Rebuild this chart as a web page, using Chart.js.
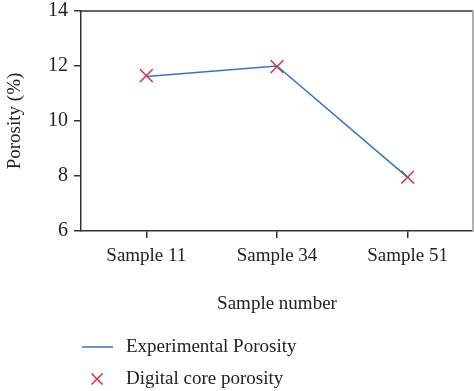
<!DOCTYPE html>
<html>
<head>
<meta charset="utf-8">
<script src="https://cdn.jsdelivr.net/npm/chart.js@4"></script>
<style>
  html, body { margin: 0; padding: 0; background: #fff; }
  #wrap { width: 474px; height: 391px; }
</style>
</head>
<body>
<div id="wrap"><canvas id="chart"></canvas></div>
<script>
// data
const samples = ['Sample 11', 'Sample 34', 'Sample 51'];
const experimentalPorosity = [11.62, 12.0, 7.95];
const digitalCorePorosity = [11.65, 11.98, 7.96];
const yTicks = [6, 8, 10, 12, 14];

const FONT = 'Liberation Serif';
const INK = '#222';

// legend + top/right frame, drawn by hand so the legend stacks in rows
const frameAndLegend = {
  id: 'frameAndLegend',
  afterDraw(chart) {
    const { ctx, chartArea: a } = chart;
    ctx.save();
    // top border
    ctx.strokeStyle = '#333';
    ctx.lineWidth = 1.5;
    ctx.beginPath();
    ctx.moveTo(a.left, a.top);
    ctx.lineTo(a.right, a.top);
    ctx.stroke();
    // right border (lighter)
    ctx.strokeStyle = '#b0b0b0';
    ctx.lineWidth = 2;
    ctx.beginPath();
    ctx.moveTo(a.right, a.top);
    ctx.lineTo(a.right, a.bottom);
    ctx.stroke();

    // legend
    const ds = chart.data.datasets;
    const rows = [347, 379];
    ctx.font = `19px "${FONT}"`;
    ctx.textBaseline = 'middle';
    ctx.fillStyle = INK;

    ctx.strokeStyle = ds[0].borderColor;
    ctx.lineWidth = 1.5;
    ctx.beginPath();
    ctx.moveTo(82, rows[0]);
    ctx.lineTo(113, rows[0]);
    ctx.stroke();
    ctx.fillText(ds[0].label, 126, rows[0]);

    ctx.strokeStyle = ds[1].borderColor;
    ctx.lineWidth = 1.5;
    const cx = 97, cy = rows[1], r = 5.5;
    ctx.beginPath();
    ctx.moveTo(cx - r, cy - r); ctx.lineTo(cx + r, cy + r);
    ctx.moveTo(cx + r, cy - r); ctx.lineTo(cx - r, cy + r);
    ctx.stroke();
    ctx.fillText(ds[1].label, 126, rows[1]);
    ctx.restore();
  }
};

new Chart(document.getElementById('chart'), {
  type: 'line',
  data: {
    labels: samples,
    datasets: [
      {
        label: 'Experimental Porosity',
        data: experimentalPorosity,
        borderColor: '#2f78c0',
        borderWidth: 1.5,
        pointRadius: 0,
        tension: 0,
        fill: false
      },
      {
        label: 'Digital core porosity',
        data: digitalCorePorosity,
        showLine: false,
        pointStyle: 'crossRot',
        pointRadius: 9,
        borderColor: '#e52a3a',
        borderWidth: 1.5
      }
    ]
  },
  options: {
    responsive: true,
    maintainAspectRatio: false,
    animation: false,
    layout: { autoPadding: false, padding: { top: 11, right: 1, bottom: 72, left: 0 } },
    plugins: {
      legend: { display: false },
      tooltip: { enabled: false }
    },
    scales: {
      x: {
        offset: true,
        afterFit: s => { s.height = 88; s.paddingLeft = 0; s.paddingRight = 0; },
        grid: { offset: false, drawOnChartArea: false, drawTicks: true, tickLength: 7, color: '#333', lineWidth: 1.5 },
        border: { color: '#333', width: 1.5 },
        ticks: { color: INK, font: { family: FONT, size: 19 }, padding: 7, maxRotation: 0 },
        title: {
          display: true, text: 'Sample number', color: INK,
          font: { family: FONT, size: 19 }, padding: { top: 24, bottom: 4 }
        }
      },
      y: {
        min: 6,
        max: 14,
        afterBuildTicks: s => { s.ticks = yTicks.map(v => ({ value: v })); },
        afterFit: s => { s.width = 81; s.paddingTop = 0; s.paddingBottom = 0; },
        grid: { drawOnChartArea: false, drawTicks: true, tickLength: 7, color: '#333', lineWidth: 1.5 },
        border: { color: '#333', width: 1.5 },
        ticks: { color: INK, font: { family: FONT, size: 20 }, padding: 6 },
        title: {
          display: true, text: 'Porosity (%)', color: INK,
          font: { family: FONT, size: 19 }, padding: { top: 4, bottom: 0 }
        }
      }
    }
  },
  plugins: [frameAndLegend]
});
</script>
</body>
</html>
